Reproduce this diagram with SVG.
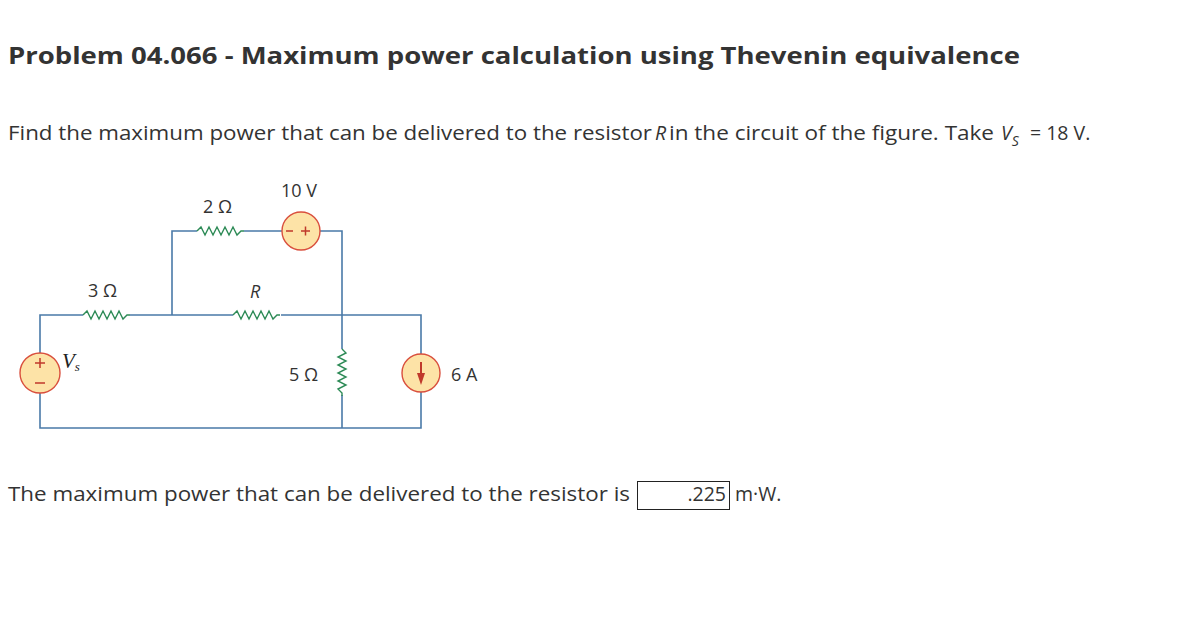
<svg xmlns="http://www.w3.org/2000/svg" width="1183" height="637" viewBox="0 0 1183 637">
<style>
.t{font-family:"Open Sans","Liberation Sans",sans-serif;fill:#333}
.w{fill:none;stroke:#4a7aa8;stroke-width:1.6}
.r{fill:none;stroke:#2e8b57;stroke-width:1.4}
.s{fill:#fde3a7;stroke:#d94f3d;stroke-width:1.4}
.sg{fill:none;stroke:#c0392b;stroke-width:1.5}
.l{font-family:"Open Sans","Liberation Sans",sans-serif;font-size:18px;fill:#333}
</style>
<rect width="1183" height="637" fill="#fff"/>
<text class="t" x="8" y="64" font-size="24" font-weight="bold" fill="#222" textLength="1012" lengthAdjust="spacingAndGlyphs">Problem 04.066 - Maximum power calculation using Thevenin equivalence</text>
<text class="t" x="8" y="140" font-size="19.5" textLength="644" lengthAdjust="spacingAndGlyphs">Find the maximum power that can be delivered to the resistor</text>
<text class="t" x="655" y="140" font-size="19.5" font-style="italic">R</text>
<text class="t" x="669" y="140" font-size="19.5" textLength="325" lengthAdjust="spacingAndGlyphs">in the circuit of the figure. Take</text>
<text class="t" x="1001" y="140" font-size="19.5" font-style="italic">V<tspan font-size="14" dy="6">S</tspan></text>
<text class="t" x="1030" y="140" font-size="19.5">= 18 V.</text>
<g id="connectors">
<path class="w" d="M40 353V315H83M130 315H233M281 315H421V354M421 392V428H40V393M172 315V231H197M244 231H282M320 231H342V349M342 395V428"/>
</g>
<g id="r3"><path class="r" d="M83 315l4 -4 4 8 4 -8 4 8 4 -8 4 8 4 -8 4 8 4 -8 4 8 4 -4 3 0"/><text class="l" x="88" y="297">3 Ω</text></g>
<g id="r2"><path class="r" d="M197 231l4 -4 4 8 4 -8 4 8 4 -8 4 8 4 -8 4 8 4 -8 4 8 4 -4 3 0"/><text class="l" x="203" y="213">2 Ω</text></g>
<g id="rR"><path class="r" d="M233 315l4 -4 4 8 4 -8 4 8 4 -8 4 8 4 -8 4 8 4 -8 4 8 4 -4 3 0"/><text class="l" x="250" y="298" font-style="italic">R</text></g>
<g id="r5"><path class="r" d="M342 349l4 4 -8 4 8 4 -8 4 8 4 -8 4 8 4 -8 4 8 4 -8 4 4 4 0 3"/><text class="l" x="289" y="381">5 Ω</text></g>
<g id="v10"><circle class="s" cx="301" cy="231" r="19"/><path class="sg" d="M286 231h7M301 231h9M305.5 226.5v9"/><text class="l" x="281" y="197">10 V</text></g>
<g id="vs"><circle class="s" cx="40" cy="373" r="20"/><path class="sg" d="M35 363h10M40 358v10M35 383h10"/><text x="62" y="368" font-family="'Liberation Serif',serif" font-style="italic" font-size="21" fill="#222">V<tspan font-size="13" dy="3">s</tspan></text></g>
<g id="i6"><circle class="s" cx="421" cy="373" r="19"/><path d="M421 362v14" stroke="#c0392b" stroke-width="2"/><path d="M417 373l4 12 4-12z" fill="#c0392b"/><text class="l" x="451" y="381">6 A</text></g>
<text class="t" x="8" y="501" font-size="19.5" textLength="622" lengthAdjust="spacingAndGlyphs">The maximum power that can be delivered to the resistor is</text>
<rect x="637.5" y="481.5" width="92" height="28" fill="#fff" stroke="#222" stroke-width="1"/>
<text class="t" x="726" y="501" font-size="19.5" text-anchor="end" fill="#111">.225</text>
<text class="t" x="735" y="501" font-size="19.5">m·W.</text>
</svg>
